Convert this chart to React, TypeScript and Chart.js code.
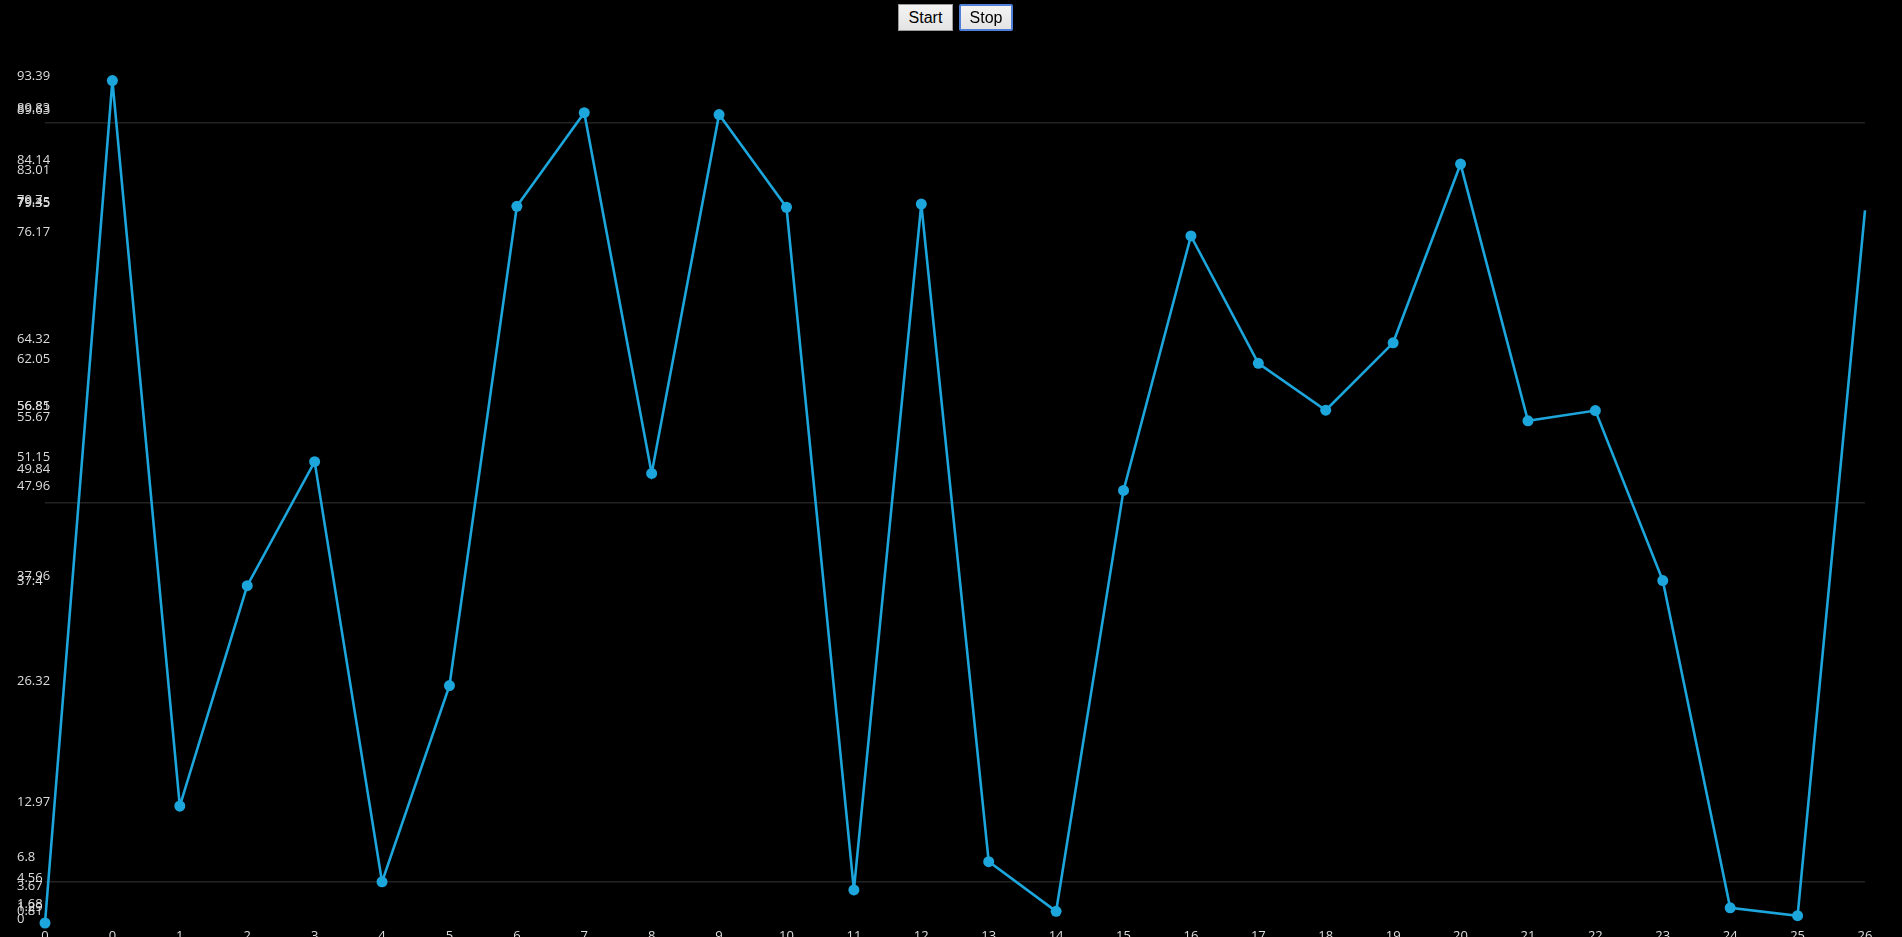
import React, { useEffect, useRef } from "react";
import { Chart, registerables } from "chart.js";

Chart.register(...registerables);

const categories = ["0", "0", "1", "2", "3", "4", "5", "6", "7", "8", "9", "10", "11", "12", "13", "14", "15", "16", "17", "18", "19", "20", "21", "22", "23", "24", "25", "26"];

const seriesValues = [0, 93.39, 12.97, 37.4, 51.15, 4.56, 26.32, 79.45, 89.83, 49.84, 89.63, 79.35, 3.67, 79.7, 6.8, 1.29, 47.96, 76.17, 62.05, 56.85, 64.32, 84.14, 55.67, 56.81, 37.96, 1.68, 0.81, 79.0];

const yTickValues = [0, 0.81, 1.29, 1.68, 3.67, 4.56, 6.8, 12.97, 26.32, 37.4, 37.96, 47.96, 49.84, 51.15, 55.67, 56.81, 56.85, 62.05, 64.32, 76.17, 79.35, 79.45, 79.7, 83.01, 84.14, 89.63, 89.83, 93.39];

const gridValues = [4.6, 46.6, 88.7];

const LINE = "#1ca6dc";

export default function App() {
  const canvasRef = useRef<HTMLCanvasElement | null>(null);

  useEffect(() => {
    if (!canvasRef.current) return;
    const last = seriesValues.length - 1;
    const chart = new Chart(canvasRef.current, {
      type: "line",
      data: {
        labels: categories,
        datasets: [
          {
            data: seriesValues,
            borderColor: LINE,
            backgroundColor: LINE,
            borderWidth: 2.6,
            pointRadius: (ctx: any) => (ctx.dataIndex === last ? 0 : 5.5),
            pointBackgroundColor: LINE,
            pointBorderWidth: 0,
            tension: 0,
            fill: false,
            clip: false,
          },
        ],
      },
      options: {
        animation: false,
        responsive: true,
        maintainAspectRatio: false,
        layout: { padding: { left: 9, right: 29, top: 21, bottom: 0 } },
        plugins: { legend: { display: false }, tooltip: { enabled: false } },
        scales: {
          x: {
            type: "category",
            offset: false,
            grid: { display: false, tickLength: 5 },
            border: { display: false },
            afterFit: (axis: any) => {
              axis.height = 21;
            },
            ticks: {
              color: "#dddddd",
              autoSkip: false,
              maxRotation: 0,
              padding: 0,
              font: { family: "'Open Sans', sans-serif", size: 13 },
            },
          },
          y: {
            type: "linear",
            position: "left",
            min: 0,
            max: 100,
            grid: { display: false, drawTicks: false },
            border: { display: false },
            afterBuildTicks: (axis: any) => {
              axis.ticks = yTickValues.map((v) => ({ value: v }));
            },
            afterFit: (axis: any) => {
              axis.width = 28;
            },
            ticks: {
              color: "#dddddd",
              autoSkip: false,
              mirror: true,
              crossAlign: "near",
              padding: -28,
              labelOffset: -4,
              font: { family: "'Open Sans', sans-serif", size: 13 },
              callback: (v: any) => String(v),
            },
          },
          y2: {
            type: "linear",
            position: "right",
            min: 0,
            max: 100,
            grid: { color: "#232323", lineWidth: 1.5, drawTicks: false },
            border: { display: false },
            afterBuildTicks: (axis: any) => {
              axis.ticks = gridValues.map((v) => ({ value: v }));
            },
            afterFit: (axis: any) => {
              axis.width = 0;
            },
            ticks: { display: false },
          },
        },
      },
    });
    return () => chart.destroy();
  }, []);

  const btnBase: React.CSSProperties = {
    position: "absolute",
    top: 4,
    height: 27,
    padding: 0,
    margin: 0,
    fontFamily: "'Liberation Sans', Arial, sans-serif",
    fontSize: 16,
    color: "#000",
    background: "linear-gradient(#f3f3f3, #e4e4e4)",
    boxSizing: "border-box",
    cursor: "pointer",
  };

  return (
    <div style={{ position: "fixed", inset: 0, background: "#000", overflow: "hidden" }}>
      <div style={{ position: "absolute", left: 8, top: 0, width: 1886, height: 944 }}>
        <canvas ref={canvasRef} />
      </div>
      <button style={{ ...btnBase, left: 898, width: 55, border: "1px solid #9a9a9a" }}>Start</button>
      <button style={{ ...btnBase, left: 959, width: 54, border: "2px solid #4f7fd6", borderRadius: 2 }}>Stop</button>
    </div>
  );
}
